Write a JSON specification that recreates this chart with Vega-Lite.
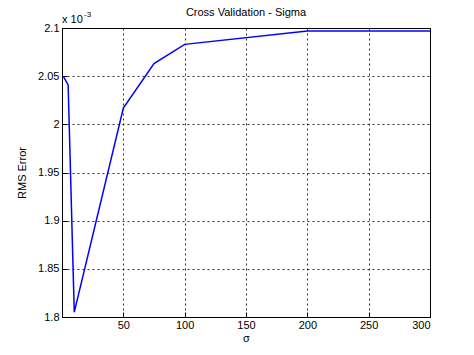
{
  "$schema": "https://vega.github.io/schema/vega-lite/v6.json",
  "width": 368,
  "height": 289,
  "autosize": {"type": "none"},
  "padding": {"left": 62, "top": 28, "right": 44, "bottom": 38},
  "background": "white",
  "title": {"text": "Cross Validation - Sigma", "font": "Liberation Sans", "fontSize": 11, "fontWeight": "normal", "color": "#000", "offset": -7},
  "config": {
    "view": {"stroke": "#000", "strokeWidth": 1},
    "axis": {
      "labelFont": "Liberation Sans", "labelFontSize": 11, "labelColor": "#000",
      "titleFont": "Liberation Sans", "titleFontSize": 11, "titleColor": "#000", "titleFontWeight": "normal",
      "domainColor": "#000", "tickColor": "#000", "tickSize": -5,
      "grid": true, "gridColor": "#000", "gridDash": [2, 3], "gridOpacity": 0.8
    }
  },
  "layer": [
    {
      "data": {"values": [
        {"sigma": 1, "rms": 0.002050},
        {"sigma": 5, "rms": 0.002041},
        {"sigma": 10, "rms": 0.001805},
        {"sigma": 50, "rms": 0.002017},
        {"sigma": 75, "rms": 0.002063},
        {"sigma": 100, "rms": 0.002083},
        {"sigma": 200, "rms": 0.002097},
        {"sigma": 300, "rms": 0.002097}
      ]},
      "mark": {"type": "line", "color": "#0000ff", "strokeWidth": 1.5, "clip": true},
      "encoding": {
        "x": {"field": "sigma", "type": "quantitative", "scale": {"domain": [0, 300], "nice": false},
              "axis": {"values": [50, 100, 150, 200, 250, 300], "title": "σ", "titlePadding": 2, "labelPadding": 7}},
        "y": {"field": "rms", "type": "quantitative", "scale": {"domain": [0.0018, 0.0021], "nice": false, "zero": false},
              "axis": {"values": [0.0018, 0.00185, 0.0019, 0.00195, 0.002, 0.00205, 0.0021], "labelExpr": "format(datum.value*1000, '.3~g')", "title": "RMS Error", "titlePadding": 10, "labelPadding": 8}}
      }
    },
    {
      "data": {"values": [{"label": "x 10"}]},
      "mark": {"type": "text", "align": "left", "baseline": "alphabetic", "dy": -5, "font": "Liberation Sans", "fontSize": 11, "color": "#000"},
      "encoding": {"x": {"datum": 0}, "y": {"datum": 0.0021}, "text": {"field": "label"}}
    },
    {
      "data": {"values": [{"label": "-3"}]},
      "mark": {"type": "text", "align": "left", "baseline": "alphabetic", "dx": 22, "dy": -11, "font": "Liberation Sans", "fontSize": 8, "color": "#000"},
      "encoding": {"x": {"datum": 0}, "y": {"datum": 0.0021}, "text": {"field": "label"}}
    }
  ]
}
